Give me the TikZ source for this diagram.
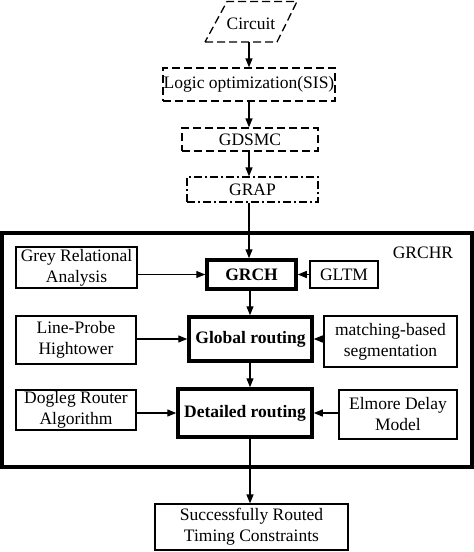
\documentclass[tikz,border=0pt]{standalone}
\usepackage{fontspec}
\setmainfont{Liberation Serif}
\usetikzlibrary{arrows.meta}
\begin{document}
\begin{tikzpicture}[x=1pt,y=-1pt,
  every node/.style={font=\fontsize{17.5}{21}\selectfont, inner sep=0pt, align=center},
  box/.style={draw, line width=1.2pt, minimum width=#1},
  thickbox/.style={draw, line width=3.5pt, minimum width=#1, font=\fontsize{17.5}{21}\selectfont\bfseries},
  dashbox/.style={draw, line width=1.3pt, dash pattern=on 8pt off 4pt, minimum width=#1},
  dotdashbox/.style={draw, line width=1.2pt, dash pattern=on 8pt off 3pt on 2pt off 3pt, minimum width=#1},
  arr/.style={line width=1.3pt, -{Triangle[length=9pt,width=7pt]}},
  frame/.style={draw, line width=4pt}
]
\useasboundingbox (0,0) rectangle (474,552);
\coordinate (col) at (249,0);
% big frame
\draw[frame] (2,233) rectangle (472,467);
\node (grchr) at (423,253) {GRCHR};
% circuit parallelogram
\draw[line width=1.3pt, dash pattern=on 8pt off 4pt] (205,42) -- (277,42) -- (297,1.5) -- (227,1.5) -- cycle;
\node (circuit) at (251,24) {Circuit};
\coordinate (circbot) at (249,42);
% top chain
\node[dashbox=172, minimum height=33] (logic) at (249,84.5) {Logic optimization(SIS)};
\node[dashbox=136, minimum height=23] (gdsmc) at (250,139.5) {GDSMC};
\node[dotdashbox=131, minimum height=25] (grap) at (252.5,189.5) {GRAP};
% inside frame
\node[thickbox=89, minimum height=29] (grch) at (251.5,274.5) {GRCH};
\node[thickbox=123, minimum height=44] (global) at (250.5,339) {Global routing};
\node[thickbox=134, minimum height=48] (detailed) at (245,413) {Detailed routing};
\node[box=121, minimum height=41] (gra) at (76.5,267.5) {Grey Relational\\Analysis};
\node[box=68, minimum height=27] (gltm) at (344,274.5) {GLTM};
\node[box=120, minimum height=48] (lph) at (76,340) {Line-Probe\\Hightower};
\node[box=133, minimum height=51] (mbs) at (390.5,341.5) {matching-based\\segmentation};
\node[box=120, minimum height=40] (dra) at (76,410) {Dogleg Router\\Algorithm};
\node[box=118, minimum height=49] (edm) at (398,414.5) {Elmore Delay\\Model};
% output
\node[box=193, minimum height=46] (success) at (251.5,527) {Successfully Routed\\Timing Constraints};
% vertical arrows
\draw[arr] (circbot) -- (logic.north -| col);
\draw[arr] (logic.south -| col) -- (gdsmc.north -| col);
\draw[arr] (gdsmc.south -| col) -- (grap.north -| col);
\draw[arr] (grap.south -| col) -- (grch.north -| col);
\coordinate (col2) at (250,0);
\draw[arr] (grch.south -| col2) -- (global.north -| col2);
\draw[arr] (global.south -| col2) -- (detailed.north -| col2);
\draw[arr] (detailed.south -| col2) -- (success.north -| col2);
% horizontal arrows
\draw[arr] (gra.east |- grch) -- (grch.west);
\draw[arr] (gltm.west) -- (grch.east);
\draw[arr] (lph.east |- global) -- (global.west);
\draw[arr] (mbs.west |- global) -- (global.east);
\draw[arr] (dra.east |- detailed) -- (detailed.west);
\draw[arr] (edm.west |- detailed) -- (detailed.east);
\end{tikzpicture}
\end{document}
